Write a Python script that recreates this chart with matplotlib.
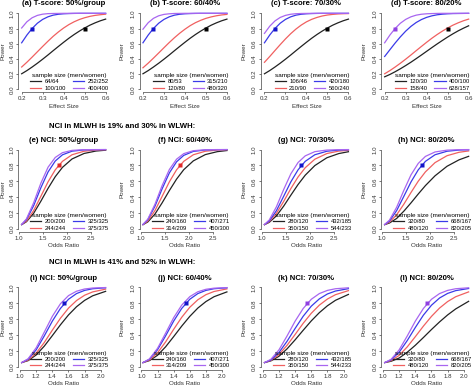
import matplotlib.pyplot as plt

plt.rcParams['font.family'] = ['Liberation Sans', 'DejaVu Sans']

# effect size grid for the t-score panels
effect_size = [0.2, 0.225, 0.25, 0.275, 0.3, 0.325, 0.35, 0.375, 0.4,
               0.425, 0.45, 0.475, 0.5, 0.525, 0.55, 0.575, 0.6]

# power curves (a)-(d)
t_a_64 = [0.204, 0.246, 0.293, 0.343, 0.396, 0.451, 0.508, 0.564, 0.619, 0.672, 0.721, 0.766, 0.807, 0.844, 0.875, 0.902, 0.924]
t_a_100 = [0.293, 0.356, 0.424, 0.494, 0.564, 0.632, 0.697, 0.755, 0.807, 0.852, 0.889, 0.919, 0.942, 0.960, 0.973, 0.982, 0.989]
t_a_252 = [0.612, 0.714, 0.801, 0.870, 0.920, 0.954, 0.976, 0.988, 0.994, 0.997, 0.999, 1.0, 1.0, 1.0, 1.0, 1.0, 1.0]
t_a_400 = [0.807, 0.889, 0.942, 0.973, 0.989, 0.996, 0.998, 0.999, 1.0, 1.0, 1.0, 1.0, 1.0, 1.0, 1.0, 1.0, 1.0]
t_b_80 = [0.204, 0.246, 0.293, 0.343, 0.396, 0.451, 0.508, 0.564, 0.619, 0.672, 0.721, 0.766, 0.807, 0.844, 0.875, 0.902, 0.924]
t_b_120 = [0.283, 0.344, 0.410, 0.478, 0.547, 0.615, 0.679, 0.738, 0.791, 0.838, 0.877, 0.908, 0.934, 0.953, 0.968, 0.979, 0.986]
t_b_315 = [0.612, 0.714, 0.801, 0.870, 0.920, 0.954, 0.976, 0.988, 0.994, 0.997, 0.999, 1.0, 1.0, 1.0, 1.0, 1.0, 1.0]
t_b_480 = [0.791, 0.877, 0.934, 0.968, 0.986, 0.994, 0.998, 0.999, 1.0, 1.0, 1.0, 1.0, 1.0, 1.0, 1.0, 1.0, 1.0]
t_c_106 = [0.204, 0.246, 0.293, 0.343, 0.396, 0.451, 0.508, 0.564, 0.619, 0.672, 0.721, 0.766, 0.807, 0.844, 0.875, 0.902, 0.924]
t_c_210 = [0.355, 0.431, 0.510, 0.588, 0.663, 0.732, 0.793, 0.845, 0.888, 0.921, 0.946, 0.965, 0.978, 0.986, 0.992, 0.995, 0.997]
t_c_420 = [0.612, 0.714, 0.801, 0.870, 0.920, 0.954, 0.976, 0.988, 0.994, 0.997, 0.999, 1.0, 1.0, 1.0, 1.0, 1.0, 1.0]
t_c_560 = [0.736, 0.830, 0.900, 0.946, 0.973, 0.988, 0.995, 0.998, 0.999, 1.0, 1.0, 1.0, 1.0, 1.0, 1.0, 1.0, 1.0]
t_d_120 = [0.164, 0.195, 0.231, 0.270, 0.312, 0.356, 0.403, 0.451, 0.500, 0.549, 0.597, 0.643, 0.688, 0.730, 0.769, 0.804, 0.836]
t_d_158 = [0.204, 0.246, 0.293, 0.343, 0.396, 0.451, 0.508, 0.564, 0.619, 0.672, 0.721, 0.766, 0.807, 0.844, 0.875, 0.902, 0.924]
t_d_400 = [0.432, 0.521, 0.609, 0.691, 0.765, 0.828, 0.879, 0.918, 0.947, 0.967, 0.981, 0.989, 0.994, 0.997, 0.998, 0.999, 1.0]
t_d_628 = [0.612, 0.714, 0.801, 0.870, 0.920, 0.954, 0.976, 0.988, 0.994, 0.997, 0.999, 1.0, 1.0, 1.0, 1.0, 1.0, 1.0]

# odds ratio grid for NCI 19%/30% panels (e)-(h)
odds_mid = [1.05, 1.15, 1.3, 1.45, 1.6, 1.75, 1.9, 2.1, 2.35, 2.6, 2.8]
n_e_200 = [0.055, 0.092, 0.198, 0.350, 0.512, 0.659, 0.776, 0.882, 0.951, 0.982, 0.992]
n_e_244 = [0.056, 0.100, 0.232, 0.412, 0.594, 0.745, 0.852, 0.935, 0.979, 0.994, 0.998]
n_e_325 = [0.057, 0.118, 0.294, 0.519, 0.718, 0.856, 0.934, 0.980, 0.996, 0.999, 1.0]
n_e_375 = [0.058, 0.128, 0.331, 0.577, 0.778, 0.901, 0.961, 0.990, 0.999, 1.0, 1.0]
n_f_240 = [0.055, 0.089, 0.188, 0.330, 0.484, 0.628, 0.747, 0.858, 0.937, 0.974, 0.988]
n_f_314 = [0.056, 0.100, 0.232, 0.412, 0.594, 0.745, 0.852, 0.935, 0.979, 0.994, 0.998]
n_f_407 = [0.057, 0.116, 0.287, 0.507, 0.706, 0.846, 0.927, 0.977, 0.995, 0.999, 1.0]
n_f_450 = [0.057, 0.123, 0.312, 0.548, 0.749, 0.879, 0.949, 0.986, 0.998, 1.0, 1.0]
n_g_280 = [0.055, 0.084, 0.166, 0.288, 0.426, 0.560, 0.678, 0.799, 0.897, 0.950, 0.973]
n_g_350 = [0.055, 0.091, 0.197, 0.347, 0.509, 0.655, 0.772, 0.879, 0.950, 0.981, 0.991]
n_g_432 = [0.056, 0.100, 0.232, 0.412, 0.594, 0.745, 0.852, 0.935, 0.979, 0.994, 0.998]
n_g_544 = [0.057, 0.114, 0.281, 0.497, 0.695, 0.837, 0.921, 0.974, 0.994, 0.999, 1.0]
n_h_320 = [0.055, 0.076, 0.133, 0.225, 0.330, 0.441, 0.547, 0.670, 0.790, 0.871, 0.915]
n_h_480 = [0.055, 0.087, 0.179, 0.313, 0.461, 0.602, 0.720, 0.836, 0.923, 0.966, 0.983]
n_h_668 = [0.056, 0.100, 0.232, 0.412, 0.594, 0.745, 0.852, 0.935, 0.979, 0.994, 0.998]
n_h_820 = [0.057, 0.112, 0.274, 0.486, 0.683, 0.826, 0.914, 0.970, 0.993, 0.999, 1.0]

# odds ratio grid for NCI 41%/52% panels (i)-(l)
odds_high = [1.02, 1.1, 1.2, 1.3, 1.4, 1.5, 1.6, 1.7, 1.8, 1.9, 2.06]
n_i_200 = [0.051, 0.076, 0.148, 0.259, 0.392, 0.528, 0.653, 0.757, 0.837, 0.895, 0.951]
n_i_244 = [0.051, 0.082, 0.171, 0.305, 0.461, 0.611, 0.739, 0.835, 0.902, 0.944, 0.979]
n_i_325 = [0.051, 0.093, 0.213, 0.388, 0.575, 0.735, 0.851, 0.923, 0.963, 0.984, 0.996]
n_i_375 = [0.051, 0.100, 0.239, 0.436, 0.636, 0.794, 0.897, 0.953, 0.981, 0.993, 0.999]
n_j_240 = [0.051, 0.076, 0.143, 0.250, 0.379, 0.512, 0.635, 0.740, 0.822, 0.883, 0.944]
n_j_314 = [0.051, 0.083, 0.174, 0.312, 0.471, 0.623, 0.750, 0.845, 0.909, 0.949, 0.982]
n_j_407 = [0.051, 0.093, 0.213, 0.388, 0.575, 0.735, 0.851, 0.923, 0.963, 0.984, 0.996]
n_j_450 = [0.051, 0.097, 0.231, 0.422, 0.618, 0.777, 0.884, 0.946, 0.977, 0.991, 0.998]
n_k_280 = [0.051, 0.073, 0.131, 0.225, 0.339, 0.460, 0.578, 0.682, 0.769, 0.838, 0.912]
n_k_350 = [0.051, 0.078, 0.153, 0.270, 0.407, 0.548, 0.674, 0.777, 0.854, 0.909, 0.960]
n_k_432 = [0.051, 0.084, 0.179, 0.321, 0.483, 0.637, 0.764, 0.856, 0.918, 0.955, 0.985]
n_k_544 = [0.051, 0.093, 0.213, 0.388, 0.575, 0.735, 0.851, 0.923, 0.963, 0.984, 0.996]
n_l_320 = [0.051, 0.068, 0.109, 0.182, 0.270, 0.368, 0.469, 0.565, 0.653, 0.729, 0.825]
n_l_480 = [0.051, 0.076, 0.143, 0.250, 0.379, 0.512, 0.635, 0.740, 0.822, 0.883, 0.944]
n_l_668 = [0.051, 0.086, 0.183, 0.330, 0.495, 0.651, 0.776, 0.867, 0.925, 0.960, 0.987]
n_l_820 = [0.051, 0.093, 0.213, 0.388, 0.575, 0.735, 0.851, 0.923, 0.963, 0.984, 0.996]

# legend labels (sample size men/women)
labels_50 = ['200/200', '244/244', '325/325', '375/375']
labels_60 = ['240/160', '314/209', '407/271', '450/300']
labels_70 = ['280/120', '350/150', '432/185', '544/233']
labels_80 = ['320/80', '480/120', '668/167', '820/205']

titles = ['(a) T-score: 50%/group', '(b) T-score: 60/40%', '(c) T-score: 70/30%', '(d) T-score: 80/20%',
          '(e) NCI: 50%/group', '(f) NCI: 60/40%', '(g) NCI: 70/30%', '(h) NCI: 80/20%',
          '(i) NCI: 50%/group', '(j) NCI: 60/40%', '(k) NCI: 70/30%', '(l) NCI: 80/20%']

# marked 80% power points: x, y, which curve
mark_x = [[0.25, 0.5], [0.25, 0.5], [0.25, 0.5], [0.25, 0.5],
          [1.82], [1.82], [1.82], [1.82],
          [1.55], [1.55], [1.55], [1.55]]
mark_y = [[0.8, 0.8]] * 4 + [[0.8]] * 8
mark_curve = [[2, 0], [2, 0], [2, 0], [3, 0],
              [1], [1], [2], [2],
              [2], [2], [3], [3]]

panels = [
    (effect_size, [t_a_64, t_a_100, t_a_252, t_a_400], ['64/64', '100/100', '252/252', '400/400']),
    (effect_size, [t_b_80, t_b_120, t_b_315, t_b_480], ['80/53', '120/80', '315/210', '480/320']),
    (effect_size, [t_c_106, t_c_210, t_c_420, t_c_560], ['106/46', '210/90', '420/180', '560/240']),
    (effect_size, [t_d_120, t_d_158, t_d_400, t_d_628], ['120/30', '158/40', '400/100', '628/157']),
    (odds_mid, [n_e_200, n_e_244, n_e_325, n_e_375], labels_50),
    (odds_mid, [n_f_240, n_f_314, n_f_407, n_f_450], labels_60),
    (odds_mid, [n_g_280, n_g_350, n_g_432, n_g_544], labels_70),
    (odds_mid, [n_h_320, n_h_480, n_h_668, n_h_820], labels_80),
    (odds_high, [n_i_200, n_i_244, n_i_325, n_i_375], labels_50),
    (odds_high, [n_j_240, n_j_314, n_j_407, n_j_450], labels_60),
    (odds_high, [n_k_280, n_k_350, n_k_432, n_k_544], labels_70),
    (odds_high, [n_l_320, n_l_480, n_l_668, n_l_820], labels_80),
]

colors = ['#222222', '#f06060', '#3a3ae8', '#a866f0']
mark_colors = ['#000000', '#e02828', '#1414c8', '#9040e0']

W, H = 474, 385
fig = plt.figure(figsize=(W / 100, H / 100), dpi=100)

col_left = [18.3, 139.6, 261.1, 381.3]
col_width = 90.7
row_box = [(10.3, 82.0), (146.4, 85.8), (284.3, 85.5)]
row_title_y = [3.5, 141, 278]
row_xlim = [(0.184, 0.616), (0.98, 2.87), (0.978, 2.102)]
row_xticks = [[0.2, 0.3, 0.4, 0.5, 0.6], [1.0, 1.5, 2.0, 2.5], [1.0, 1.2, 1.4, 1.6, 1.8, 2.0]]
row_xlabel = ['Effect Size', 'Odds Ratio', 'Odds Ratio']
row_xlabel_gap = [14.5, 13.0, 13.5]

for k, (xs, curves, labs) in enumerate(panels):
    r, c = divmod(k, 4)
    top, h = row_box[r]
    left = col_left[c]
    ax = fig.add_axes([left / W, 1 - (top + h) / H, col_width / W, h / H])

    handles = []
    for i, ys in enumerate(curves):
        line, = ax.plot(xs, ys, color=colors[i], lw=0.9)
        handles.append(line)
    for mx, my, mc in zip(mark_x[k], mark_y[k], mark_curve[k]):
        ax.plot(mx, my, 's', color=mark_colors[mc], ms=2.8, mec='none')

    ax.set_xlim(*row_xlim[r])
    ax.set_ylim(-0.04, 1.04)
    ax.set_xticks(row_xticks[r])
    ax.set_yticks([0, 0.2, 0.4, 0.6, 0.8, 1.0])
    ax.set_xticklabels([f'{t:.1f}' for t in row_xticks[r]])
    ax.set_yticklabels(['0.0', '0.2', '0.4', '0.6', '0.8', '1.0'], rotation=90, va='center')

    # R style axes: open box, axis lines only span the ticks
    ax.spines['top'].set_visible(False)
    ax.spines['right'].set_visible(False)
    ax.spines['left'].set_bounds(0, 1)
    ax.spines['bottom'].set_bounds(row_xticks[r][0], row_xticks[r][-1])
    for s in ['left', 'bottom']:
        ax.spines[s].set_linewidth(0.5)
        ax.spines[s].set_color('#444444')
    ax.tick_params(labelsize=4.4, length=1.5, width=0.5, pad=1.4, colors='#444444', labelcolor='#333333')

    ax.set_xlabel(row_xlabel[r], fontsize=4.5, color='#333333')
    ax.xaxis.label.set_va('center')
    ax.xaxis.set_label_coords(0.5, -row_xlabel_gap[r] / h)
    ax.set_ylabel('Power', fontsize=4.5, color='#333333')
    ax.yaxis.label.set_va('center')
    # first column label sits at the image edge, keep it just inside
    ylab_gap = 15.0 if c == 0 else 17.5
    ax.yaxis.set_label_coords(-ylab_gap / col_width, 0.5)

    ax.legend(handles, labs, ncol=2, loc='lower center', bbox_to_anchor=(0.565, 0.005),
              frameon=False, fontsize=4.2, title='sample size (men/women)', title_fontsize=4.6,
              handlelength=1.9, handletextpad=0.6, columnspacing=1.2, labelspacing=0.2,
              borderpad=0.2, borderaxespad=0)

    fig.text((left + col_width / 2) / W, 1 - row_title_y[r] / H, titles[k],
             ha='center', va='center', fontsize=5.6, fontweight='bold')

# section headings
fig.text(122 / W, 1 - 126 / H, 'NCI in MLWH is 19% and 30% in WLWH:',
         ha='center', va='center', fontsize=5.6, fontweight='bold')
fig.text(122 / W, 1 - 262 / H, 'NCI in MLWH is 41% and 52% in WLWH:',
         ha='center', va='center', fontsize=5.6, fontweight='bold')

fig.savefig('out.png', dpi=100)
